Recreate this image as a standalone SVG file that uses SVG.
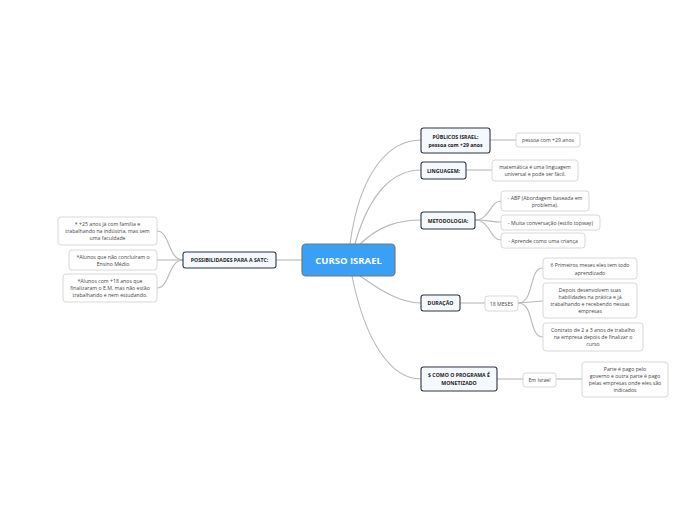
<svg xmlns="http://www.w3.org/2000/svg" width="697" height="520" viewBox="0 0 697 520">
<style>
text{font-family:"Open Sans","Liberation Sans",sans-serif;text-anchor:middle;}
.m rect{fill:#f5f8fc;stroke:#2f3640;stroke-width:1.1}
.m text{font-size:5.2px;font-weight:bold;fill:#222}
.l rect{fill:#fff;stroke:#d4d4d4;stroke-width:0.9}
.l text{font-size:5.2px;fill:#444}
#conn path{fill:none;stroke:#b8b8b8;stroke-width:1.1}
</style>
<rect width="697" height="520" fill="#fff"/>
<g id="conn">
<path d="M350 244 C360 170 390 140 421 140"/>
<path d="M355 244 C370 190 395 170 421 170"/>
<path d="M360 244 C380 225 400 220 421 220"/>
<path d="M360 276 C380 290 400 303 421 303"/>
<path d="M352 276 C365 340 390 379 421 379"/>
<path d="M302 260 L276 260"/>
<path d="M490 140 L516 140"/>
<path d="M466 170 L492 170"/>
<path d="M475 220 C490 220 490 201 501 201"/>
<path d="M475 220 C490 220 490 222 501 222"/>
<path d="M475 220 C490 220 490 240 501 240"/>
<path d="M460 303 L485 303"/>
<path d="M518 303 C535 303 528 268 543 268"/>
<path d="M518 303 L543 301"/>
<path d="M518 303 C535 303 528 337 543 337"/>
<path d="M497 379 L523 379"/>
<path d="M556 379 L582 379"/>
<path d="M183 260 C168 260 170 231 157 231"/>
<path d="M183 260 L157 260"/>
<path d="M183 260 C168 260 170 288 157 288"/>
</g>
<g id="center"><rect x="302" y="244" width="93" height="32" rx="4" fill="#39a0f5" stroke="#777" stroke-width="1.2"/><text x="348.5" y="264" font-size="9.5" font-weight="bold" fill="#fff">CURSO ISRAEL</text></g>
<g id="publico" class="m"><rect x="421" y="128" width="69" height="25" rx="2.5"/><text x="455.5" y="138.5">PÚBLICOS ISRAEL:</text><text x="455.5" y="146.5">pessoa com +29 anos</text></g>
<g id="publico-1" class="l"><rect x="516" y="133" width="64" height="14" rx="3"/><text x="548" y="142">pessoa com +29 anos</text></g>
<g id="linguagem" class="m"><rect x="421" y="162" width="45" height="17" rx="2.5"/><text x="443.5" y="172.5">LINGUAGEM:</text></g>
<g id="linguagem-1" class="l"><rect x="492" y="160" width="86" height="21" rx="3"/><text x="535" y="169">matemática é uma linguagem</text><text x="535" y="176">universal e pode ser fácil.</text></g>
<g id="metodologia" class="m"><rect x="421" y="212" width="54" height="17" rx="2.5"/><text x="448" y="222.5">METODOLOGIA:</text></g>
<g id="met-1" class="l"><rect x="501" y="191" width="88" height="20" rx="3"/><text x="545" y="199.5">- ABP (Abordagem baseada em</text><text x="545" y="206.5">problema).</text></g>
<g id="met-2" class="l"><rect x="501" y="215" width="99" height="15" rx="3"/><text x="550.5" y="224.5">- Muita conversação (estilo topway)</text></g>
<g id="met-3" class="l"><rect x="501" y="233" width="84" height="15" rx="3"/><text x="543" y="242.5">- Aprende como uma criança</text></g>
<g id="duracao" class="m"><rect x="421" y="295" width="39" height="16" rx="2.5"/><text x="440.5" y="305">DURAÇÃO</text></g>
<g id="meses" class="l"><rect x="485" y="296" width="33" height="15" rx="3"/><text x="501.5" y="305.5">18 MESES</text></g>
<g id="dur-1" class="l"><rect x="543" y="258" width="94" height="21" rx="3"/><text x="590" y="267">6 Primeiros meses eles tem todo</text><text x="590" y="274.5">aprendizado</text></g>
<g id="dur-2" class="l"><rect x="543" y="283" width="94" height="35" rx="3"/><text x="590" y="292">Depois desenvolvem suas</text><text x="590" y="299">habilidades na prática e já</text><text x="590" y="306">trabalhando e recebendo nessas</text><text x="590" y="313">empresas</text></g>
<g id="dur-3" class="l"><rect x="543" y="323" width="100" height="28" rx="3"/><text x="593" y="332">Contrato de 2 a 3 anos de trabalho</text><text x="593" y="339">na empresa depois de finalizar o</text><text x="593" y="346">curso</text></g>
<g id="monetizado" class="m"><rect x="421" y="367" width="76" height="24" rx="2.5"/><text x="459" y="377">$ COMO O PROGRAMA É</text><text x="459" y="385">MONETIZADO</text></g>
<g id="israel" class="l"><rect x="523" y="373" width="33" height="14" rx="3"/><text x="539.5" y="382">Em Israel</text></g>
<g id="mon-1" class="l"><rect x="582" y="362" width="86" height="35" rx="3"/><text x="625" y="371">Parte é pago pelo</text><text x="625" y="378">governo e outra parte é pago</text><text x="625" y="385">pelas empresas onde eles são</text><text x="625" y="392">indicados</text></g>
<g id="possibilidades" class="m"><rect x="183" y="252" width="93" height="16" rx="2.5"/><text x="229.5" y="262">POSSIBILIDADES PARA A SATC:</text></g>
<g id="pos-1" class="l"><rect x="58" y="217" width="99" height="28" rx="3"/><text x="107.5" y="225.5">* +25 anos já com família e</text><text x="107.5" y="232.5">trabalhando na indústria, mas sem</text><text x="107.5" y="239.5">uma faculdade</text></g>
<g id="pos-2" class="l"><rect x="69" y="250" width="88" height="20" rx="3"/><text x="113" y="258.5">*Alunos que não concluíram o</text><text x="113" y="265.5">Ensino Médio</text></g>
<g id="pos-3" class="l"><rect x="63" y="274" width="94" height="28" rx="3"/><text x="110" y="283">*Alunos com +18 anos que</text><text x="110" y="290">finalizaram o E.M, mas não estão</text><text x="110" y="297">trabalhando e nem estudando.</text></g>
</svg>
